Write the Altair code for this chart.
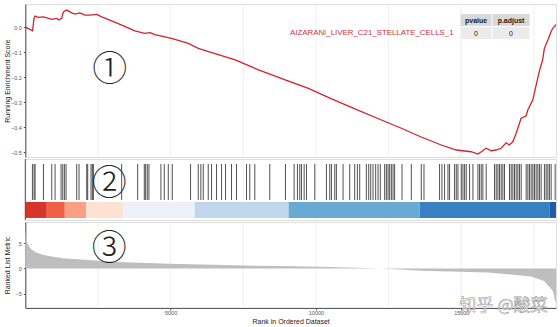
import altair as alt
import pandas as pd

# ---------------- data ----------------
N_GENES = 18260

es_rank = [0, 250, 300, 340, 450, 625, 910, 1080, 1160, 1250, 1310, 1425, 1600, 1710, 1880,
           2055, 2225, 2460, 2630, 2970, 3320, 3770, 4110, 4300, 4450, 4690, 5030, 5610, 5950,
           6500, 7200, 8000, 8920, 9740, 10500, 11300, 12250, 12940, 13620, 14310, 14830,
           15340, 15570, 15690, 15860, 16030, 16200, 16370, 16545, 16650, 16775, 16890, 17060,
           17230, 17290, 17460, 17600, 17700, 17800, 17860, 17980, 18090, 18150, 18260]
es_val = [0.0, -0.015, 0.035, 0.044, 0.039, 0.041, 0.031, 0.035, 0.028, 0.035, 0.061, 0.068,
          0.057, 0.052, 0.057, 0.048, 0.048, 0.051, 0.041, 0.025, 0.008, -0.015, -0.025, -0.022,
          -0.03, -0.036, -0.045, -0.065, -0.085, -0.105, -0.13, -0.17, -0.21, -0.245, -0.285,
          -0.325, -0.372, -0.405, -0.44, -0.472, -0.492, -0.499, -0.508, -0.499, -0.485, -0.495,
          -0.492, -0.485, -0.463, -0.472, -0.459, -0.425, -0.365, -0.356, -0.332, -0.292, -0.22,
          -0.17, -0.132, -0.085, -0.052, -0.019, -0.005, 0.01]

hits = [246, 303, 337, 625, 911, 1025, 1231, 1289, 1346, 1403, 1770, 1850, 2113, 2148, 2262,
        2308, 2343, 3316, 3866, 4095, 4141, 4198, 4255, 4667, 4782, 4920, 5058, 5687, 5951,
        6041, 6124, 6295, 6409, 6581, 6753, 6890, 7096, 7268, 7612, 7725, 7897, 8412, 8952,
        9250, 9364, 9444, 9502, 9594, 9674, 9960, 10361, 10476, 10534, 10648, 10704, 10934,
        11163, 11334, 11426, 11506, 11735, 11816, 11885, 11965, 12055, 12137, 12216, 12365,
        12423, 12481, 12537, 12595, 12653, 12708, 12962, 13282, 13625, 13718, 14254, 14336,
        14426, 14543, 14598, 14770, 14828, 14886, 15000, 15058, 15115, 15172, 15286, 15402,
        15573, 15629, 15687, 15744, 15859, 16145, 16203, 16261, 16316, 16375, 16432, 16488,
        16660, 16718, 16776, 16832, 16890, 16948, 17004, 17062, 17234, 17292, 17347, 17405,
        17464, 17519, 17577, 17636, 17691, 17749, 17862, 17921, 17979, 18034, 18093, 18230]

bar_start = [0, 740, 1360, 2100, 3380, 5830, 9060, 13570, 18034]
bar_end = [740, 1360, 2100, 3380, 5830, 9060, 13570, 18034, 18260]
bar_colors = ["#d8352a", "#ef6047", "#f9a083", "#fde2d3", "#eef0f9", "#c0d7eb", "#69aad5",
              "#3980c0", "#1c5ea6"]

metric_rank = [0, 30, 80, 150, 220, 400, 600, 910, 1300, 2050, 3210, 4930, 7200, 8800, 10500,
               12270, 13625, 15918, 17405, 17852, 18151, 18260]
metric_val = [7.6, 6.0, 5.0, 4.2, 3.7, 3.1, 2.7, 2.35, 2.0, 1.7, 1.24, 0.92, 0.6, 0.45, 0.28,
              0.0, -0.45, -0.8, -1.6, -2.5, -4.5, -7.0]

grid_breaks = [2500, 5000, 7500, 10000, 12500, 15000, 17500]
x_ticks = [5000, 10000, 15000]
es_ticks = [-0.5, -0.4, -0.3, -0.2, -0.1, 0.0]
metric_ticks = [-5, 0, 5]

geneset = "AIZARANI_LIVER_C21_STELLATE_CELLS_1"
table_header = ["pvalue", "p.adjust"]
table_values = ["0", "0"]
markers = ["①", "②", "③"]
watermark = "知乎 @酸菜"

# ---------------- layout ----------------
W = 531
H_TOP, H_MID, H_BOT = 153, 61, 86
FONT = "Liberation Sans"
CJK = "Noto Sans CJK SC"

xscale = alt.Scale(domain=[0, N_GENES], nice=False, zero=False)
one = pd.DataFrame({"k": [0]})

es_df = pd.DataFrame({"rank": es_rank, "es": es_val})
hits_df = pd.DataFrame({"rank": hits})
bar_df = pd.DataFrame({"start": bar_start, "end": bar_end,
                       "seg": [f"s{i}" for i in range(len(bar_start))]})
metric_df = pd.DataFrame({"rank": metric_rank, "metric": metric_val})
grid_df = pd.DataFrame({"g": grid_breaks})

ylab = dict(labelFontSize=5.5, labelColor="#555555", labelPadding=2, tickSize=2,
            tickColor="#4d4d4d", domainColor="#4d4d4d", domainWidth=1, grid=False,
            titleFontSize=7, titleFontWeight="normal", titleColor="#222222",
            titleX=-17.7, titleBaseline="middle")


def grid_layer(axis=None):
    return alt.Chart(grid_df).mark_rule(color="#ebebeb", strokeWidth=0.8).encode(
        x=alt.X("g:Q", scale=xscale, axis=axis))


def text_layer(txt, x, y, **kw):
    return alt.Chart(one).mark_text(text=txt, **kw).encode(x=alt.value(x), y=alt.value(y))


def rect_layer(x, x2, y, y2, color):
    return alt.Chart(one).mark_rect(color=color).encode(
        x=alt.value(x), x2=alt.value(x2), y=alt.value(y), y2=alt.value(y2))


def marker_layer(txt, x, y):
    return text_layer(txt, x, y, align="center", baseline="middle", fontSize=35,
                      fontWeight=300, color="#222222", font=CJK)


# top panel
es_line = alt.Chart(es_df).mark_line(color="#d3212d", strokeWidth=1.3).encode(
    x=alt.X("rank:Q", scale=xscale, axis=None),
    y=alt.Y("es:Q", scale=alt.Scale(domain=[-0.52, 0.092], nice=False, zero=False),
            axis=alt.Axis(title="Running Enrichment Score", values=es_ticks, format=".1f", **ylab)))

top_layers = [grid_layer(), es_line,
              text_layer(geneset, 428.5, 29, align="right", baseline="middle", fontSize=7.9,
                         color="#d0303a", font=FONT)]
col_x = [(435.5, 466.5), (467.5, 504.5)]
for (x0, x1), h, v in zip(col_x, table_header, table_values):
    top_layers.append(rect_layer(x0, x1, 10, 22, "#d9d9d9"))
    top_layers.append(rect_layer(x0, x1, 23, 35, "#ebebeb"))
    top_layers.append(text_layer(h, (x0 + x1) / 2, 16.5, align="center", baseline="middle",
                                 fontSize=7, fontWeight="bold", color="#222222", font=FONT))
    top_layers.append(text_layer(v, (x0 + x1) / 2, 29.5, align="center", baseline="middle",
                                 fontSize=7, color="#222222", font=FONT))
top_layers.append(marker_layer(markers[0], 84.5, 66))
top = alt.layer(*top_layers).properties(width=W, height=H_TOP)

# middle panel
hit_rules = alt.Chart(hits_df).mark_rule(color="#1a1a1a", strokeWidth=0.9, opacity=0.85).encode(
    x=alt.X("rank:Q", scale=xscale, axis=None), y=alt.value(5), y2=alt.value(41))
color_bar = alt.Chart(bar_df).mark_rect().encode(
    x=alt.X("start:Q", scale=xscale, axis=None), x2="end:Q",
    y=alt.value(43), y2=alt.value(59),
    color=alt.Color("seg:N", scale=alt.Scale(domain=list(bar_df["seg"]), range=bar_colors),
                    legend=None))
mid_axis = alt.Chart(one).mark_rule(color="#4d4d4d", strokeWidth=1).encode(
    x=alt.value(0), y=alt.value(0), y2=alt.value(H_MID))
mid = alt.layer(grid_layer(), color_bar, hit_rules, mid_axis,
                marker_layer(markers[1], 84, 24.7)
                ).properties(width=W, height=H_MID)

# bottom panel
x_axis = alt.Axis(title="Rank in Ordered Dataset", values=x_ticks, format="d", grid=False,
                  tickSize=2, tickColor="#4d4d4d", domainColor="#4d4d4d", labelFontSize=5.5,
                  labelColor="#555555", labelPadding=1, titleFontSize=7,
                  titleFontWeight="normal", titleColor="#222222", titlePadding=1)
area = alt.Chart(metric_df).mark_area(color="#bebebe").encode(
    x=alt.X("rank:Q", scale=xscale, axis=x_axis),
    y=alt.Y("metric:Q", scale=alt.Scale(domain=[-7.84, 9.2], nice=False, zero=False),
            axis=alt.Axis(title="Ranked List Metric", values=metric_ticks, **ylab)))
bot = alt.layer(grid_layer(x_axis), area,
                marker_layer(markers[2], 84, 26.7),
                text_layer(watermark, 478.5, 84, align="center", baseline="middle",
                           fontSize=17, color="#ffffff", stroke="#a0a0a0", strokeWidth=0.6,
                           font=CJK)
                ).properties(width=W, height=H_BOT)

chart = alt.vconcat(top, mid, bot, spacing=0).properties(
    padding={"left": 2.3, "top": 3, "right": 0, "bottom": 0}
).configure_view(stroke=None).configure(font=FONT)

chart.save("out.html", embed_options={"renderer": "svg", "actions": False})
